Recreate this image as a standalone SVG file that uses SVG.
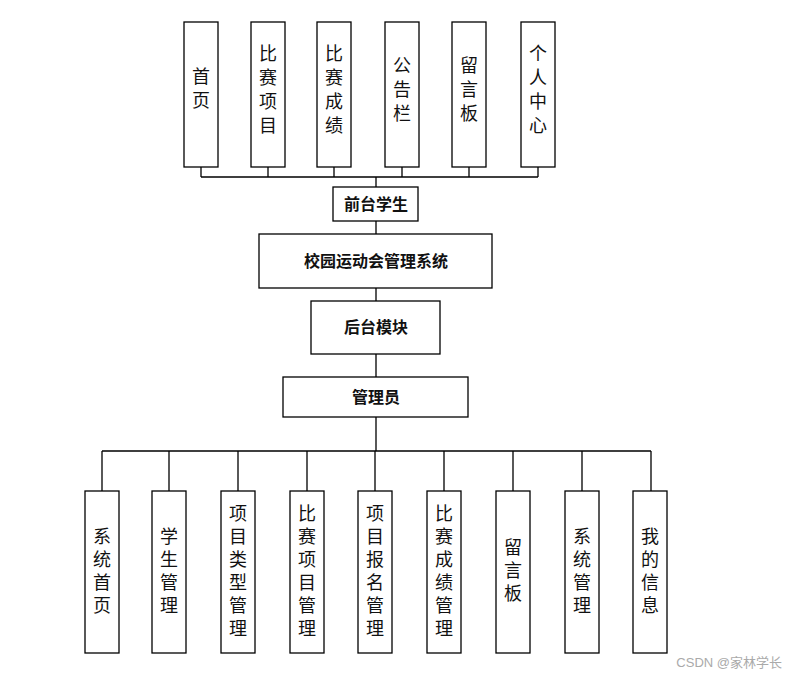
<svg xmlns="http://www.w3.org/2000/svg" width="789" height="676" viewBox="0 0 789 676">
<style>
.b{fill:#fff;stroke:#000;stroke-width:1.3}
.t{font-family:"Noto Sans CJK SC",sans-serif;font-size:18px;fill:#111;text-anchor:middle}
.m{font-family:"Noto Sans CJK SC",sans-serif;font-size:16px;font-weight:bold;fill:#111;text-anchor:middle}
.c{stroke:#000;stroke-width:1.3;fill:none}
</style>
<rect width="789" height="676" fill="#fff"/>
<g id="connectors">
<path class="c" d="M201 167V177M268 167V177M334 167V177M402 167V177M469 167V177M538 167V177M201 177H538M376 177V187M376 221V234M376 288V301M376 354V377M376 417V451M102 451H651M102 451V491M169 451V491M238 451V491M307 451V491M375 451V491M444 451V491M513 451V491M582 451V491M651 451V491"/>
</g>
<g id="top1"><rect class="b" x="184" y="22" width="34" height="145"/><text class="t" x="201" y="83">首</text><text class="t" x="201" y="107">页</text></g>
<g id="top2"><rect class="b" x="251" y="22" width="34" height="145"/><text class="t" x="268" y="60">比</text><text class="t" x="268" y="84">赛</text><text class="t" x="268" y="108">项</text><text class="t" x="268" y="132">目</text></g>
<g id="top3"><rect class="b" x="317" y="22" width="34" height="145"/><text class="t" x="334" y="60">比</text><text class="t" x="334" y="84">赛</text><text class="t" x="334" y="108">成</text><text class="t" x="334" y="132">绩</text></g>
<g id="top4"><rect class="b" x="385" y="22" width="34" height="145"/><text class="t" x="402" y="72">公</text><text class="t" x="402" y="96">告</text><text class="t" x="402" y="120">栏</text></g>
<g id="top5"><rect class="b" x="452" y="22" width="34" height="145"/><text class="t" x="469" y="72">留</text><text class="t" x="469" y="96">言</text><text class="t" x="469" y="120">板</text></g>
<g id="top6"><rect class="b" x="521" y="22" width="34" height="145"/><text class="t" x="538" y="60">个</text><text class="t" x="538" y="84">人</text><text class="t" x="538" y="108">中</text><text class="t" x="538" y="132">心</text></g>
<g id="front"><rect class="b" x="333" y="187" width="85" height="34"/><text class="m" x="376" y="210">前台学生</text></g>
<g id="system"><rect class="b" x="259" y="234" width="233" height="54"/><text class="m" x="376" y="267">校园运动会管理系统</text></g>
<g id="back"><rect class="b" x="311" y="301" width="129" height="53"/><text class="m" x="376" y="333">后台模块</text></g>
<g id="admin"><rect class="b" x="283" y="377" width="185" height="40"/><text class="m" x="376" y="403">管理员</text></g>
<g id="b1"><rect class="b" x="85" y="491" width="34" height="162"/><text class="t" x="102" y="543">系</text><text class="t" x="102" y="566">统</text><text class="t" x="102" y="589">首</text><text class="t" x="102" y="612">页</text></g>
<g id="b2"><rect class="b" x="152" y="491" width="34" height="162"/><text class="t" x="169" y="543">学</text><text class="t" x="169" y="566">生</text><text class="t" x="169" y="589">管</text><text class="t" x="169" y="612">理</text></g>
<g id="b3"><rect class="b" x="221" y="491" width="34" height="162"/><text class="t" x="238" y="520">项</text><text class="t" x="238" y="543">目</text><text class="t" x="238" y="566">类</text><text class="t" x="238" y="589">型</text><text class="t" x="238" y="612">管</text><text class="t" x="238" y="635">理</text></g>
<g id="b4"><rect class="b" x="290" y="491" width="34" height="162"/><text class="t" x="307" y="520">比</text><text class="t" x="307" y="543">赛</text><text class="t" x="307" y="566">项</text><text class="t" x="307" y="589">目</text><text class="t" x="307" y="612">管</text><text class="t" x="307" y="635">理</text></g>
<g id="b5"><rect class="b" x="358" y="491" width="34" height="162"/><text class="t" x="375" y="520">项</text><text class="t" x="375" y="543">目</text><text class="t" x="375" y="566">报</text><text class="t" x="375" y="589">名</text><text class="t" x="375" y="612">管</text><text class="t" x="375" y="635">理</text></g>
<g id="b6"><rect class="b" x="427" y="491" width="34" height="162"/><text class="t" x="444" y="520">比</text><text class="t" x="444" y="543">赛</text><text class="t" x="444" y="566">成</text><text class="t" x="444" y="589">绩</text><text class="t" x="444" y="612">管</text><text class="t" x="444" y="635">理</text></g>
<g id="b7"><rect class="b" x="496" y="491" width="34" height="162"/><text class="t" x="513" y="554">留</text><text class="t" x="513" y="577">言</text><text class="t" x="513" y="600">板</text></g>
<g id="b8"><rect class="b" x="565" y="491" width="34" height="162"/><text class="t" x="582" y="543">系</text><text class="t" x="582" y="566">统</text><text class="t" x="582" y="589">管</text><text class="t" x="582" y="612">理</text></g>
<g id="b9"><rect class="b" x="633" y="491" width="34" height="162"/><text class="t" x="650" y="543">我</text><text class="t" x="650" y="566">的</text><text class="t" x="650" y="589">信</text><text class="t" x="650" y="612">息</text></g>
<text x="782" y="667" text-anchor="end" font-family="Liberation Sans,'Noto Sans CJK SC',sans-serif" font-size="13" fill="#aaa">CSDN @家林学长</text>
</svg>
